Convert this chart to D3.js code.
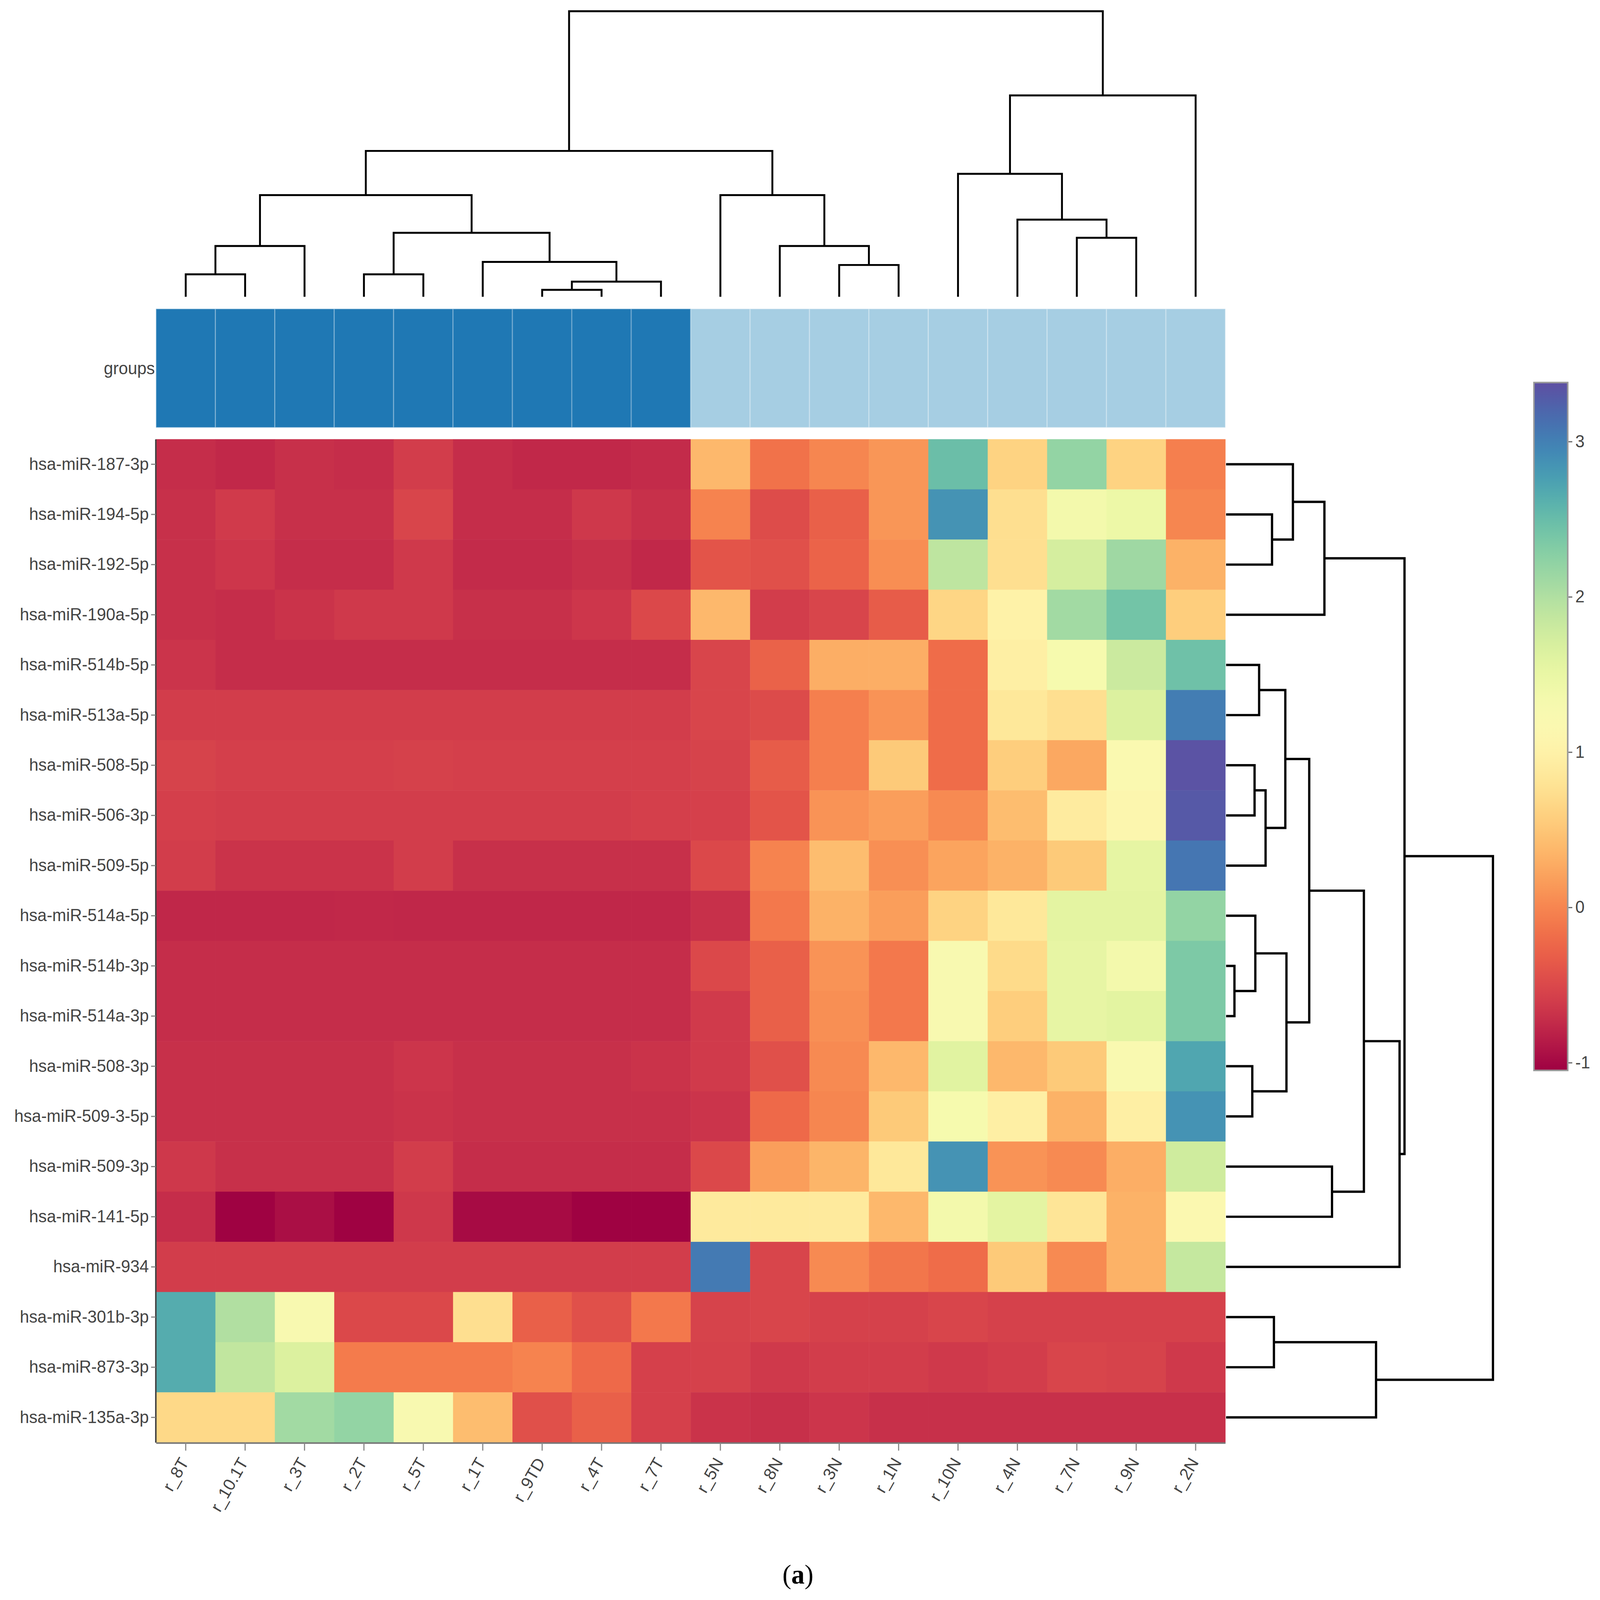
<!DOCTYPE html>
<html>
<head>
<meta charset="utf-8">
<script src="https://cdn.jsdelivr.net/npm/d3@7"></script>
<style>
  html, body { margin: 0; padding: 0; background: #fff; overflow: hidden; width: 100%; height: 100%; }
  svg { display: block; width: 100vw; height: 100vh; }
</style>
</head>
<body>
<svg id="chart" viewBox="0 0 4215 4124" preserveAspectRatio="none"></svg>
<script>
// ---------------- DATA ----------------
const columns = ["r_8T","r_10.1T","r_3T","r_2T","r_5T","r_1T","r_9TD","r_4T","r_7T",
                 "r_5N","r_8N","r_3N","r_1N","r_10N","r_4N","r_7N","r_9N","r_2N"];
const groups = ["T","T","T","T","T","T","T","T","T","N","N","N","N","N","N","N","N","N"];
const rows = ["hsa-miR-187-3p","hsa-miR-194-5p","hsa-miR-192-5p","hsa-miR-190a-5p","hsa-miR-514b-5p",
              "hsa-miR-513a-5p","hsa-miR-508-5p","hsa-miR-506-3p","hsa-miR-509-5p","hsa-miR-514a-5p",
              "hsa-miR-514b-3p","hsa-miR-514a-3p","hsa-miR-508-3p","hsa-miR-509-3-5p","hsa-miR-509-3p",
              "hsa-miR-141-5p","hsa-miR-934","hsa-miR-301b-3p","hsa-miR-873-3p","hsa-miR-135a-3p"];
const values = [
  [-0.72,-0.76,-0.70,-0.72,-0.60,-0.72,-0.76,-0.76,-0.74,  0.38,-0.15, 0.00, 0.12, 2.48, 0.62, 2.20, 0.62,-0.05],
  [-0.70,-0.62,-0.70,-0.70,-0.53,-0.72,-0.72,-0.64,-0.70, -0.02,-0.47,-0.30, 0.12, 2.85, 0.75, 1.35, 1.45, 0.00],
  [-0.70,-0.65,-0.72,-0.72,-0.63,-0.74,-0.74,-0.70,-0.76, -0.40,-0.43,-0.27, 0.06, 1.90, 0.75, 1.72, 2.12, 0.33],
  [-0.70,-0.72,-0.68,-0.63,-0.63,-0.70,-0.70,-0.65,-0.50,  0.38,-0.60,-0.53,-0.33, 0.65, 1.00, 2.10, 2.42, 0.57],
  [-0.67,-0.72,-0.72,-0.72,-0.72,-0.72,-0.72,-0.72,-0.72, -0.53,-0.28, 0.30, 0.30,-0.20, 0.95, 1.30, 1.80, 2.45],
  [-0.60,-0.60,-0.60,-0.60,-0.60,-0.60,-0.60,-0.60,-0.60, -0.53,-0.48,-0.05, 0.10,-0.20, 0.85, 0.75, 1.65, 3.02],
  [-0.55,-0.58,-0.58,-0.58,-0.56,-0.58,-0.58,-0.58,-0.58, -0.55,-0.33,-0.05, 0.53,-0.20, 0.57, 0.25, 1.20, 3.35],
  [-0.58,-0.60,-0.60,-0.60,-0.60,-0.60,-0.60,-0.60,-0.58, -0.57,-0.40, 0.10, 0.18, 0.03, 0.42, 0.90, 1.10, 3.30],
  [-0.60,-0.68,-0.68,-0.68,-0.60,-0.70,-0.70,-0.70,-0.70, -0.50,-0.02, 0.42, 0.07, 0.22, 0.33, 0.53, 1.55, 3.08],
  [-0.77,-0.77,-0.77,-0.76,-0.77,-0.77,-0.77,-0.77,-0.77, -0.70,-0.10, 0.33, 0.18, 0.62, 0.85, 1.57, 1.57, 2.20],
  [-0.72,-0.72,-0.72,-0.72,-0.72,-0.72,-0.72,-0.72,-0.72, -0.50,-0.30, 0.10,-0.10, 1.25, 0.70, 1.53, 1.35, 2.35],
  [-0.72,-0.72,-0.72,-0.72,-0.72,-0.72,-0.72,-0.72,-0.72, -0.62,-0.30, 0.07,-0.10, 1.25, 0.57, 1.53, 1.58, 2.35],
  [-0.70,-0.70,-0.70,-0.70,-0.66,-0.70,-0.70,-0.70,-0.68, -0.62,-0.43, 0.03, 0.38, 1.60, 0.38, 0.53, 1.22, 2.70],
  [-0.70,-0.70,-0.70,-0.70,-0.68,-0.70,-0.70,-0.70,-0.70, -0.67,-0.22, 0.00, 0.53, 1.30, 0.95, 0.33, 0.95, 2.85],
  [-0.64,-0.70,-0.70,-0.70,-0.60,-0.72,-0.72,-0.72,-0.72, -0.50, 0.18, 0.35, 0.85, 2.85, 0.10, 0.03, 0.30, 1.77],
  [-0.72,-1.04,-0.95,-1.04,-0.64,-0.98,-0.98,-1.04,-1.04,  0.88, 0.88, 0.88, 0.38, 1.35, 1.57, 0.82, 0.33, 1.15],
  [-0.60,-0.60,-0.60,-0.60,-0.60,-0.60,-0.60,-0.60,-0.60,  3.05,-0.53, 0.03,-0.12,-0.20, 0.53, 0.03, 0.33, 1.85],
  [ 2.65, 2.00, 1.25,-0.50,-0.50, 0.75,-0.30,-0.43,-0.10, -0.55,-0.53,-0.56,-0.56,-0.53,-0.56,-0.56,-0.56,-0.56],
  [ 2.65, 1.88, 1.65,-0.08,-0.08,-0.08,-0.02,-0.22,-0.57, -0.56,-0.63,-0.60,-0.60,-0.63,-0.60,-0.53,-0.55,-0.63],
  [ 0.68, 0.68, 2.10, 2.20, 1.25, 0.42,-0.43,-0.30,-0.57, -0.68,-0.70,-0.66,-0.70,-0.70,-0.70,-0.70,-0.70,-0.70]
];
// linkage: [childA, childB, height]; index < n = leaf, >= n = earlier merge
const colLinkage = [
  [6,7,0.18],[18,8,0.39],[0,1,0.58],[3,4,0.58],[11,12,0.82],[5,19,0.90],
  [20,2,1.31],[10,22,1.31],[15,16,1.52],[21,23,1.65],[14,26,1.99],[24,27,2.62],
  [9,25,2.62],[13,28,3.17],[29,30,3.76],[31,17,5.19],[32,33,7.36]
];
const rowLinkage = [
  [10,11,0.22],[12,13,0.69],[6,7,0.75],[9,20,0.77],[4,5,0.87],[22,8,1.04],
  [1,2,1.21],[17,18,1.26],[24,25,1.56],[23,21,1.59],[0,26,1.76],[28,29,2.19],
  [30,3,2.59],[14,15,2.79],[31,33,3.63],[27,19,3.95],[34,16,4.57],[32,36,4.70],[37,35,7.03]
];
const groupColors = {T: "#1f78b4", N: "#a6cee3"};
const colorDomain = [-1.05, 3.38];
const colorTicks = [-1, 0, 1, 2, 3];

// ---------------- LAYOUT ----------------
const svg = d3.select("#chart");
const hm = {left: 411, right: 3228, top: 1132, bottom: 3718};
const grp = {top: 796, bottom: 1102};
const colDend = {leafY: 765, rootY: 29};
const rowDend = {leafX: 3230, rootX: 3933};
const cbar = {x: 4041, w: 89, top: 986, bottom: 2759};
const textColor = "#444";
const fontFam = "'Liberation Sans', Arial, sans-serif";
const fs = 44;

svg.append("rect").attr("x", 0).attr("y", 0).attr("width", 4215).attr("height", 4124).attr("fill", "#fff");

const x = d3.scaleBand().domain(columns).range([hm.left, hm.right]).padding(0);
const y = d3.scaleBand().domain(rows).range([hm.top, hm.bottom]).padding(0);
const color = d3.scaleSequential(d3.interpolateSpectral).domain(colorDomain);

// heatmap cells
const cells = [];
values.forEach((r, i) => r.forEach((v, j) => cells.push({row: rows[i], col: columns[j], v})));
svg.append("g").selectAll("rect").data(cells).join("rect")
  .attr("x", d => x(d.col)).attr("y", d => y(d.row))
  .attr("width", x.bandwidth() + 0.5).attr("height", y.bandwidth() + 0.5)
  .attr("fill", d => color(d.v));

// groups bar
svg.append("g").selectAll("rect").data(columns).join("rect")
  .attr("x", d => x(d)).attr("y", grp.top)
  .attr("width", x.bandwidth()).attr("height", grp.bottom - grp.top)
  .attr("fill", (d, i) => groupColors[groups[i]])
  .attr("stroke", "rgba(255,255,255,0.25)").attr("stroke-width", 3);
svg.append("text").attr("x", 408).attr("y", (grp.top + grp.bottom) / 2)
  .attr("dy", "0.35em").attr("text-anchor", "end")
  .attr("font-family", fontFam).attr("font-size", fs).attr("fill", textColor)
  .text("groups");

// axes
const yAxis = svg.append("g").attr("transform", `translate(${hm.left - 1},0)`)
  .call(d3.axisLeft(y).tickSize(12).tickSizeOuter(0).tickPadding(6));
yAxis.selectAll("text").attr("font-family", fontFam).attr("font-size", fs).attr("fill", textColor);
yAxis.selectAll("line").attr("stroke", "#888").attr("stroke-width", 3);
yAxis.select(".domain").attr("stroke", "#444").attr("stroke-width", 4);

const xAxis = svg.append("g").attr("transform", `translate(0,${hm.bottom + 1})`)
  .call(d3.axisBottom(x).tickSize(20).tickSizeOuter(0).tickPadding(0));
xAxis.select(".domain").attr("stroke", "#777").attr("stroke-width", 4);
xAxis.selectAll("line").attr("stroke", "#888").attr("stroke-width", 3);
xAxis.selectAll("text")
  .attr("font-family", fontFam).attr("font-size", fs).attr("fill", textColor)
  .attr("text-anchor", "end")
  .attr("transform", "translate(-4,42) rotate(-60)")
  .attr("x", 0).attr("y", 0).attr("dy", "0.35em");

// dendrogram helper
function buildDend(linkage, n, leafPos) {
  const pos = [], hgt = [];
  for (let i = 0; i < n; i++) { pos.push(leafPos(i)); hgt.push(0); }
  const segs = [];
  linkage.forEach(([a, b, h]) => {
    segs.push({p1: pos[a], h1: hgt[a], p2: pos[b], h2: hgt[b], h});
    pos.push((pos[a] + pos[b]) / 2); hgt.push(h);
  });
  return segs;
}

// column dendrogram
const colH = d3.scaleLinear().domain([0, d3.max(colLinkage, d => d[2])]).range([colDend.leafY, colDend.rootY]);
const colSegs = buildDend(colLinkage, columns.length, i => x(columns[i]) + x.bandwidth() / 2);
svg.append("g").selectAll("path").data(colSegs).join("path")
  .attr("d", s => `M${s.p1},${colH(s.h1)}V${colH(s.h)}H${s.p2}V${colH(s.h2)}`)
  .attr("fill", "none").attr("stroke", "#000").attr("stroke-width", 5);

// row dendrogram
const rowH = d3.scaleLinear().domain([0, d3.max(rowLinkage, d => d[2])]).range([rowDend.leafX, rowDend.rootX]);
const rowSegs = buildDend(rowLinkage, rows.length, i => y(rows[i]) + y.bandwidth() / 2);
svg.append("g").selectAll("path").data(rowSegs).join("path")
  .attr("d", s => `M${rowH(s.h1)},${s.p1}H${rowH(s.h)}V${s.p2}H${rowH(s.h2)}`)
  .attr("fill", "none").attr("stroke", "#000").attr("stroke-width", 6);

// colorbar
const defs = svg.append("defs");
const grad = defs.append("linearGradient").attr("id", "cbgrad")
  .attr("x1", 0).attr("y1", 1).attr("x2", 0).attr("y2", 0);
d3.range(0, 1.0001, 0.02).forEach(t => {
  grad.append("stop").attr("offset", t).attr("stop-color", d3.interpolateSpectral(t));
});
svg.append("rect").attr("x", cbar.x).attr("y", cbar.top)
  .attr("width", cbar.w).attr("height", cbar.bottom - cbar.top)
  .attr("fill", "url(#cbgrad)").attr("stroke", "#999").attr("stroke-width", 4);
const cScale = d3.scaleLinear().domain(colorDomain).range([cbar.bottom, cbar.top]);
const cAxis = svg.append("g").attr("transform", `translate(${cbar.x + cbar.w + 2},0)`)
  .call(d3.axisRight(cScale).tickValues(colorTicks).tickSize(10).tickPadding(8).tickFormat(d3.format("d")));
cAxis.select(".domain").remove();
cAxis.selectAll("line").attr("stroke", "#666").attr("stroke-width", 3);
cAxis.selectAll("text").attr("font-family", fontFam).attr("font-size", fs).attr("fill", textColor)
  .text(d => d < 0 ? "-" + Math.abs(d) : d);

// caption
const cap = svg.append("text").attr("x", 2102).attr("y", 4082).attr("text-anchor", "middle")
  .attr("font-family", "'Liberation Serif', 'Times New Roman', serif").attr("font-size", 70).attr("fill", "#000");
cap.append("tspan").text("(");
cap.append("tspan").attr("font-weight", "bold").text("a");
cap.append("tspan").text(")");
</script>
</body>
</html>
